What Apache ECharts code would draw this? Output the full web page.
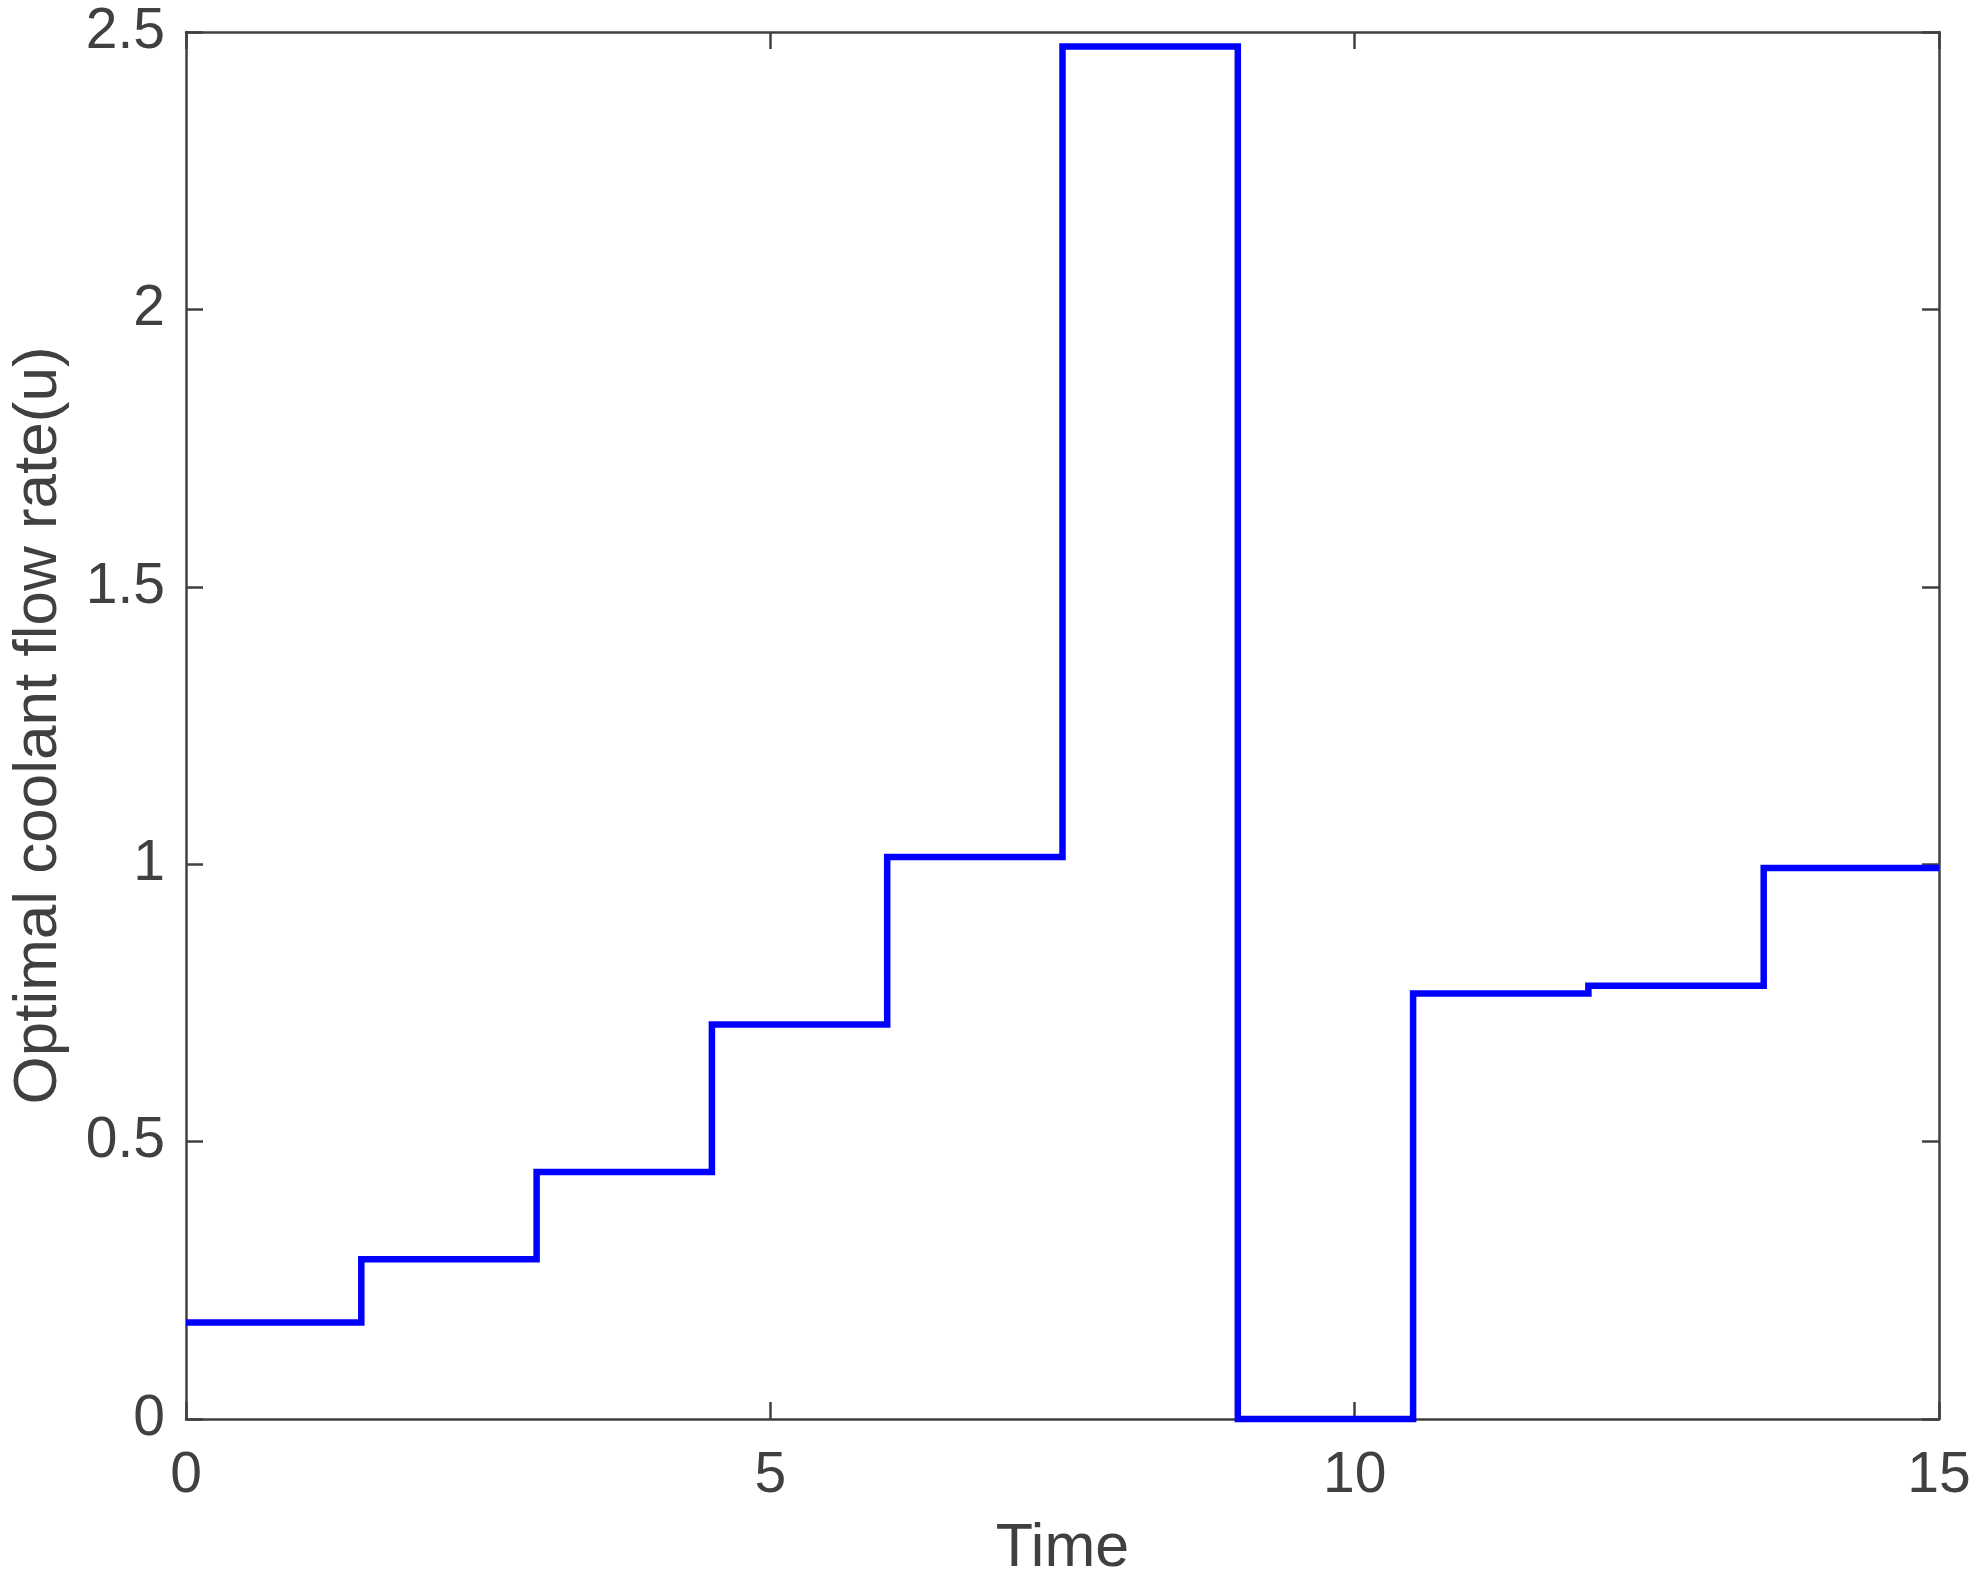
<!DOCTYPE html>
<html>
<head>
<meta charset="utf-8">
<script src="https://cdn.jsdelivr.net/npm/echarts@6/dist/echarts.min.js"></script>
<style>html,body{margin:0;padding:0;background:#fff}#c{width:1982px;height:1590px}</style>
</head>
<body>
<div id="c"></div>
<script>
const time = [0, 1.5, 3, 4.5, 6, 7.5, 9, 10.5, 12, 13.5, 15];
const flow = [0.174, 0.288, 0.445, 0.711, 1.013, 2.474, 0, 0.767, 0.781, 0.993, 0.993];
const xTicks = [0, 5, 10, 15];
const yTicks = [0, 0.5, 1, 1.5, 2, 2.5];
const xName = 'Time';
const yName = 'Optimal coolant flow rate(u)';

const FONT = '"Liberation Sans", Arial, Helvetica, sans-serif';
const AX = '#404040';
const chart = echarts.init(document.getElementById('c'), null, {renderer: 'canvas'});
const axisLine = {show: true, onZero: false, lineStyle: {color: AX, width: 2.5}};
const tick = {show: true, inside: true, length: 17, lineStyle: {color: AX, width: 2.5}};
chart.setOption({
  animation: false,
  backgroundColor: '#fff',
  grid: {left: 184, right: 43, top: 32, bottom: 171, containLabel: false},
  xAxis: [{
    type: 'value', min: 0, max: 15, interval: 5, position: 'bottom',
    name: xName, nameLocation: 'middle', nameGap: 100,
    nameTextStyle: {fontFamily: FONT, fontSize: 61, color: AX},
    axisLine, axisTick: tick, splitLine: {show: false},
    axisLabel: {fontFamily: FONT, fontSize: 57, color: AX, margin: 29,
      formatter: v => xTicks.includes(v) ? String(v) : ''}
  }, {
    type: 'value', min: 0, max: 15, interval: 5, position: 'top',
    axisLine, axisTick: tick, axisLabel: {show: false}, splitLine: {show: false}
  }],
  yAxis: [{
    type: 'value', min: 0, max: 2.5, interval: 0.5, position: 'left',
    name: yName, nameLocation: 'middle', nameGap: 116,
    nameTextStyle: {fontFamily: FONT, fontSize: 62, color: AX},
    axisLine, axisTick: tick, splitLine: {show: false},
    axisLabel: {fontFamily: FONT, fontSize: 57, color: AX, margin: 21,
      formatter: v => yTicks.includes(v) ? String(v) : ''}
  }, {
    type: 'value', min: 0, max: 2.5, interval: 0.5, position: 'right',
    axisLine, axisTick: tick, axisLabel: {show: false}, splitLine: {show: false}
  }],
  series: [{
    type: 'line', step: 'end', showSymbol: false, clip: false,
    data: time.map((t, i) => [t, flow[i]]),
    lineStyle: {color: '#0000ff', width: 6.5, join: 'miter', cap: 'butt'},
    itemStyle: {color: '#0000ff'}
  }]
});
</script>
</body>
</html>
